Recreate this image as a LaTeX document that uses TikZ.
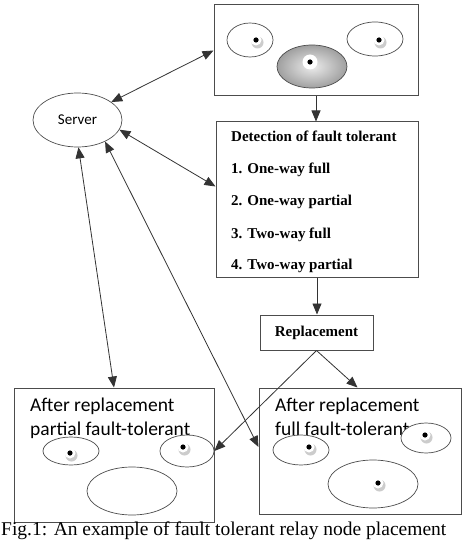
\documentclass[tikz,border=0pt]{standalone}
\usepackage{fontspec}
\setmainfont{Liberation Serif}
\newfontfamily\calib{Carlito}
\usepackage{tikz}
\usetikzlibrary{arrows.meta,calc,positioning,shapes.geometric}

% small relay node: shadow, white ring, black centre
\newcommand{\relaydot}[1]{%
  \fill[gray!40] ($(#1)+(1.5,2.5)$) circle (6pt);
  \fill[white] (#1) circle (5.5pt);
  \fill[black] (#1) circle (2.6pt);}

\begin{document}
\begin{tikzpicture}[x=1pt, y=-1pt,
    box/.style={draw=gray!60!black, line width=1pt, inner sep=0pt},
    relay/.style={ellipse, draw=black!70, line width=0.7pt, fill=white, inner sep=0pt},
    arr/.style={draw=black!80, line width=0.8pt, -{Triangle[length=11pt,width=9pt]}},
    dbl/.style={draw=black!80, line width=0.8pt, {Triangle[length=11pt,width=9pt]}-{Triangle[length=11pt,width=9pt]}},
    bold/.style={font=\fontsize{15}{18}\selectfont\bfseries, anchor=base west, inner sep=0pt},
    after/.style={font=\calib\fontsize{19.5}{22}\selectfont, anchor=base west, inner sep=0pt}]
    \useasboundingbox (0,0) rectangle (474,540);

    % top box with three relay nodes
    \node[box, minimum width=204pt, minimum height=91pt] (topbox) at (316,50.5) {};
    \node[relay, minimum width=46pt, minimum height=34pt] (tl) at (250,40) {};
    \node[relay, minimum width=56pt, minimum height=34pt] (tr) at (375,39) {};
    \node[relay, minimum width=70pt, minimum height=43pt, shading=radial, inner color=gray!15, outer color=gray!75] (tg) at (312,66.5) {};
    \relaydot{256,40}
    \relaydot{379,40}
    \fill[white] (310,62) circle (7.5pt);
    \fill[black] (310,62) circle (2.6pt);

    % server
    \node[ellipse, draw=black!70, line width=0.7pt, minimum width=89pt, minimum height=54pt, font=\calib\fontsize{15}{17}\selectfont] (server) at (77.5,120) {Server};

    % detection box
    \node[box, minimum width=202pt, minimum height=155pt] (detect) at (317,199.5) {};
    \node[bold] (dtitle) at (231,142) {Detection of fault tolerant};
    \node[bold] (d1) at (231,173) {1. One-way full};
    \node[bold] (d2) at (231,205) {2. One-way partial};
    \node[bold] (d3) at (231,238) {3. Two-way full};
    \node[bold] (d4) at (231,269) {4. Two-way partial};

    % replacement
    \node[box, minimum width=113pt, minimum height=35pt, font=\fontsize{15}{18}\selectfont\bfseries] (repl) at (316.5,332.5) {Replacement};

    % bottom left box
    \node[box, minimum width=200pt, minimum height=134pt] (blbox) at (114,455) {};
    \node[after] (bl1) at (30,411) {After replacement};
    \node[after] (bl2) at (30,435) {partial fault-tolerant};
    \node[relay, minimum width=56pt, minimum height=28pt] (bll) at (71,451) {};
    \node[relay, minimum width=54pt, minimum height=32pt] (blr) at (187,451) {};
    \node[relay, minimum width=90pt, minimum height=48pt] (blb) at (132,491) {};
    \relaydot{70,453}
    \relaydot{183,447}

    % bottom right box
    \node[box, minimum width=202pt, minimum height=126pt] (brbox) at (360,451) {};
    \node[after] (br1) at (275,411) {After replacement};
    \node[after] (br2) at (275,435) {full fault-tolerant};
    \node[relay, minimum width=56pt, minimum height=30pt] (brl) at (301,450) {};
    \node[relay, minimum width=50pt, minimum height=30pt] (brr) at (426,438) {};
    \node[relay, minimum width=90pt, minimum height=48pt] (brb) at (373,484) {};
    \relaydot{309,447}
    \relaydot{425,435}
    \relaydot{378,483}

    % connectors
    \draw[dbl] (server.28) -- (topbox.west);
    \draw[dbl] (server.-13) -- ($(detect.north west)+(0,65)$);
    \draw[dbl] (server.-88) -- (blbox.north);
    \draw[dbl] (server.-38) -- ($(brbox.west)+(0,-4)$);
    \draw[arr] (topbox.south) -- (topbox.south |- detect.north);
    \draw[arr] (detect.south) -- (detect.south |- repl.north);
    \draw[arr] (repl.south) -- ($(brbox.north west)+(99,0)$);
    \draw[arr] (repl.south) -- (blr.east);

    % caption
    \node[anchor=base west, inner sep=0pt, font=\fontsize{19.5}{22}\selectfont] (caption) at (1,535.5) {Fig.1: An example of fault tolerant relay node placement};
\end{tikzpicture}
\end{document}
